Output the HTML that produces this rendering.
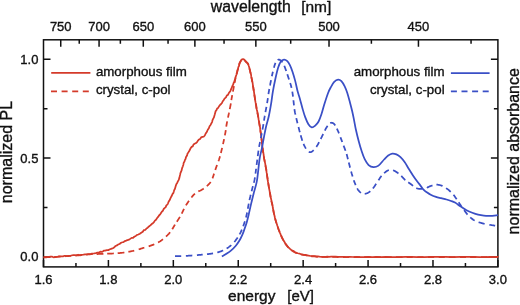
<!DOCTYPE html>
<html><head><meta charset="utf-8"><style>
html,body{margin:0;padding:0;background:#fff;}
svg{display:block;}
text{font-family:"Liberation Sans",Arial,sans-serif;fill:#111;stroke:#111;stroke-width:0.35px;}
</style></head><body>
<svg width="520" height="305" viewBox="0 0 520 305">
<rect x="0" y="0" width="520" height="305" fill="#fff"/>

<g fill="none" stroke="#111" stroke-width="1.5">
<rect x="43.5" y="39.8" width="454.4" height="227.1"/>
<path d="M43.50,266.9v-7.0 M75.96,266.9v-4.0 M108.41,266.9v-7.0 M140.87,266.9v-4.0 M173.33,266.9v-7.0 M205.78,266.9v-4.0 M238.24,266.9v-7.0 M270.70,266.9v-4.0 M303.16,266.9v-7.0 M335.61,266.9v-4.0 M368.07,266.9v-7.0 M400.53,266.9v-4.0 M432.98,266.9v-7.0 M465.44,266.9v-4.0 M497.90,266.9v-7.0 M471.05,39.8v4.0 M418.44,39.8v7.0 M371.38,39.8v4.0 M329.02,39.8v7.0 M290.69,39.8v4.0 M255.85,39.8v7.0 M224.04,39.8v4.0 M194.88,39.8v7.0 M168.05,39.8v4.0 M143.29,39.8v7.0 M120.36,39.8v4.0 M99.07,39.8v7.0 M79.24,39.8v4.0 M60.74,39.8v7.0 M43.5,256.90h7.0 M497.9,256.90h-7.0 M43.5,207.50h4.0 M497.9,207.50h-4.0 M43.5,158.10h7.0 M497.9,158.10h-7.0 M43.5,108.70h4.0 M497.9,108.70h-4.0 M43.5,59.30h7.0 M497.9,59.30h-7.0"/>
</g>
<g fill="none" stroke-linejoin="round" stroke-linecap="butt">
<path d="M43.50,257.30L45.06,256.99L46.70,257.04L48.28,257.19L50.47,256.55L51.88,256.68L53.49,257.26L54.94,257.04L56.23,256.78L58.04,256.68L59.55,256.46L60.96,256.46L63.02,256.37L64.66,255.78L66.80,256.10L68.91,255.80L70.82,255.65L72.66,255.24L74.62,255.19L76.14,255.48L78.06,254.71L79.97,255.32L81.65,254.86L83.37,254.59L85.12,254.27L86.92,254.28L88.62,254.14L90.41,254.05L91.91,253.59L94.18,253.44L95.84,253.16L97.37,252.68L98.98,252.51L100.28,251.70L102.25,251.84L103.77,250.73L105.01,250.61L106.92,250.09L108.27,250.12L109.97,249.28L111.80,248.58L113.38,248.02L114.69,246.91L115.58,245.94L116.86,245.43L118.32,244.34L119.50,243.98L121.12,242.73L122.45,242.26L123.48,242.09L124.84,241.06L126.17,240.64L127.47,240.02L129.15,239.66L130.54,238.64L131.65,237.85L133.08,237.84L134.21,236.75L135.80,235.91L137.09,234.85L138.36,234.50L139.83,233.67L141.20,232.73L142.80,231.71L143.74,230.18L145.43,229.82L146.49,228.45L147.71,227.74L148.95,226.49L150.32,225.43L151.45,224.27L152.49,223.54L153.98,222.14L154.90,220.62L156.03,219.74L157.21,217.85L158.09,216.97L159.19,215.25L160.20,214.34L161.02,213.04L162.15,211.35L162.94,210.71L163.66,209.00L164.55,208.13L165.70,207.16L166.32,205.36L167.34,204.64L168.03,203.31L168.79,201.31L169.53,200.44L170.32,198.55L171.00,197.17L171.51,196.29L172.59,193.90L173.30,193.13L173.85,191.40L174.09,190.40L174.95,188.75L175.38,187.20L175.87,185.48L176.41,184.07L177.19,183.02L177.72,181.67L178.58,180.12L179.33,178.10L179.65,176.58L180.21,174.22L180.49,172.80L181.05,171.73L181.69,170.08L182.03,168.34L182.85,166.20L183.37,164.67L183.65,162.91L184.48,161.52L185.02,159.73L185.57,159.05L185.93,157.30L187.03,155.58L187.50,153.59L188.36,152.39L189.09,151.22L189.63,150.31L190.62,148.22L191.50,146.90L192.75,146.40L193.50,144.53L194.59,143.82L196.08,143.05L197.04,142.20L197.93,140.54L199.07,139.42L200.08,138.93L201.08,137.42L202.46,136.94L203.65,136.73L204.80,135.52L205.44,133.98L206.41,132.61L207.16,131.23L207.78,129.78L208.84,128.26L209.56,126.22L210.57,124.93L211.12,123.77L212.08,122.07L212.51,120.19L213.23,118.69L213.81,117.66L214.25,116.18L214.74,114.53L215.29,112.46L215.64,111.05L216.34,110.32L217.12,108.53L218.10,107.93L219.32,105.85L220.23,104.73L221.12,104.05L221.92,103.04L222.59,101.50L223.73,100.02L224.52,98.59L225.95,97.38L226.78,95.59L228.05,94.82L228.68,93.23L229.71,91.91L230.42,90.89L231.09,89.17L231.78,87.64L232.49,85.75L233.13,84.82L233.51,83.26L234.29,81.76L234.69,80.23L235.24,78.51L235.50,77.38L236.21,75.24L236.63,74.23L237.19,72.16L237.44,70.33L238.04,68.73L238.33,67.13L239.09,65.72L239.44,63.71L240.06,62.42L240.65,61.11L241.50,59.61L243.04,59.18L244.25,59.67L245.42,60.89L246.41,61.92L247.48,63.05L248.35,64.38L248.78,65.92L249.26,67.41L249.61,69.04L250.12,70.62L250.30,71.90L250.72,73.27L251.10,74.99L251.28,76.68L251.61,78.09L252.02,79.79L252.35,81.56L252.62,82.84L252.78,84.25L253.00,86.19L253.39,87.41L253.57,89.26L253.93,91.37L254.18,93.28L254.55,95.68L254.90,97.82L255.20,100.30L255.47,102.17L255.89,103.92L256.25,105.66L256.41,107.74L256.78,109.46L257.17,111.05L257.46,112.45L257.77,114.12L258.03,115.41L258.37,117.68L258.56,119.23L258.88,120.77L259.20,122.37L259.36,123.88L259.72,125.66L260.06,127.31L260.19,129.38L260.47,131.43L260.87,133.19L261.11,135.34L261.27,136.77L261.39,138.10L261.67,139.51L261.81,141.30L261.94,142.81L262.12,144.13L262.23,145.84L262.45,147.10L262.74,149.21L263.01,150.94L263.34,152.89L263.64,154.70L263.84,156.56L264.17,158.64L264.56,160.34L264.73,161.55L265.13,163.12L265.42,164.78L265.59,166.20L265.88,167.64L266.21,169.21L266.39,170.61L266.57,172.39L266.96,173.96L267.07,175.59L267.32,177.02L267.62,178.64L267.71,180.27L268.00,181.94L268.31,183.48L268.60,184.92L268.83,186.88L269.12,188.53L269.43,190.08L269.72,191.68L270.00,193.52L270.39,195.03L270.51,196.61L270.88,197.97L271.25,199.68L271.60,201.70L272.18,203.75L272.57,205.63L272.81,207.77L273.27,209.82L273.65,211.83L273.97,213.74L274.53,215.76L274.93,217.78L275.48,219.74L275.97,221.49L276.41,222.82L276.90,224.19L277.35,225.75L277.83,226.97L278.27,228.27L278.75,229.81L279.37,230.94L279.79,232.52L280.37,233.72L280.87,235.13L281.45,236.17L282.33,238.31L283.27,239.95L284.22,241.56L285.22,243.27L286.25,244.63L287.40,246.07L288.45,247.27L289.75,248.55L290.93,249.66L292.23,250.44L293.52,251.07L294.77,251.99L296.10,252.67L297.73,253.26L299.36,253.55L301.06,254.23L302.48,254.56L304.04,254.91L305.43,254.89L307.29,255.49L308.62,255.59L310.55,256.00L311.79,256.13L313.53,256.05L315.52,256.22L317.61,256.28L319.54,256.69L321.80,256.79L324.43,256.77L325.70,256.85L327.39,256.62L329.03,256.90L331.10,256.66L333.11,256.60L335.49,256.71L337.93,256.97L340.80,256.92L343.67,256.97L346.70,257.03L349.89,256.84L353.32,257.00L356.78,256.81L360.54,257.01L364.32,257.02L368.24,256.94L372.33,257.04L376.73,256.95L380.99,257.04L385.67,256.87L390.34,257.04L395.06,257.14L400.05,257.16L405.29,256.94L411.17,256.84L417.45,257.19L424.17,257.04L431.26,256.85L438.30,256.91L445.65,256.87L452.73,257.05L460.01,256.90L466.79,256.90L473.39,256.97L479.52,257.05L485.03,257.02L490.02,256.87L494.33,257.13L497.99,256.81L497.90,257.00" stroke="#d43a2a" stroke-width="1.75"/>
<path d="M43.50,257.40L44.29,257.36L45.25,257.32L45.82,257.30L46.38,257.27L47.02,257.24L47.65,257.21L48.34,257.18L49.03,257.15L49.76,257.12M54.17,256.91L54.70,256.89L55.24,256.86L55.78,256.83L56.32,256.81L56.86,256.78L57.39,256.75L57.92,256.72L58.45,256.69L58.97,256.66L59.48,256.63L60.00,256.60L60.53,256.57M64.99,256.28L65.58,256.24L66.18,256.20L66.78,256.16L67.38,256.12L67.99,256.08L68.59,256.03L69.20,255.99L69.80,255.95L70.41,255.91L71.00,255.86M75.62,255.53L76.15,255.49L76.68,255.45L77.20,255.41L77.94,255.36L78.67,255.30L79.34,255.25L80.00,255.20L80.59,255.15L81.18,255.11L81.70,255.06M86.23,254.61L86.93,254.54L87.63,254.48L88.36,254.42L89.15,254.36L90.00,254.30L90.91,254.25L91.83,254.20L92.77,254.16M96.64,254.04L97.62,254.01L98.60,253.99L99.57,253.96L100.54,253.93L101.50,253.90L102.45,253.87L103.40,253.84M107.20,253.74L108.15,253.71L109.10,253.68L110.05,253.64L111.00,253.60L111.95,253.55L112.90,253.50L113.85,253.44M117.68,253.19L118.64,253.12L119.60,253.04L120.56,252.95L121.52,252.86L122.48,252.75L123.44,252.63L124.40,252.50M128.40,251.83L128.91,251.73L129.41,251.63L129.92,251.53L130.43,251.42L130.92,251.32L131.42,251.22L131.91,251.11L132.39,251.01L133.33,250.80L134.24,250.59M138.67,249.43L139.27,249.24L139.85,249.05L140.41,248.86L140.94,248.68L141.47,248.50L141.98,248.33L142.49,248.16L143.00,248.00L143.49,247.86L143.93,247.73L144.34,247.61M148.68,246.30L149.30,246.09L149.97,245.86L150.66,245.63L151.37,245.38L152.10,245.12L152.83,244.85L153.56,244.57L154.28,244.29M158.07,242.49L158.63,242.18L159.18,241.86L159.72,241.54L160.26,241.20L160.79,240.84L161.33,240.47L161.88,240.07L162.43,239.65L163.00,239.20M166.04,236.56L166.66,235.97L167.28,235.37L167.88,234.76L168.47,234.14L169.04,233.53L169.58,232.91L170.10,232.30M172.26,229.21L172.64,228.57L173.02,227.93L173.40,227.29L173.78,226.63L174.17,225.96L174.57,225.29L175.00,224.60M176.84,221.75L177.32,221.01L177.56,220.64L177.80,220.27L178.04,219.89L178.28,219.52L178.52,219.14L178.76,218.76L179.00,218.38L179.23,218.00L179.47,217.62L179.70,217.24L179.93,216.85M181.65,213.73L181.85,213.33L182.05,212.92L182.25,212.51L182.44,212.11L182.64,211.70L182.84,211.29L183.03,210.88L183.23,210.47L183.42,210.06L183.62,209.66L183.82,209.25L184.02,208.85M185.96,205.34L186.20,204.95L186.43,204.57L186.68,204.18L186.92,203.80L187.17,203.42L187.42,203.03L187.68,202.65L187.93,202.27L188.18,201.90L188.44,201.53L188.69,201.16L188.95,200.79M191.40,197.50L191.86,196.94L192.31,196.40L192.75,195.88L193.19,195.39L193.63,194.93L194.06,194.48L194.48,194.06L194.90,193.66M198.32,191.31L198.67,191.19L199.01,191.07L199.35,190.96L199.69,190.85L200.02,190.72L200.36,190.57L200.70,190.40L201.04,190.21L201.38,190.02L201.72,189.82L202.05,189.61L202.39,189.41L202.72,189.19L203.05,188.98L203.38,188.75L203.71,188.52M206.71,186.18L207.04,185.89L207.37,185.60L207.69,185.30L208.00,185.00L208.31,184.70L208.60,184.40L208.88,184.10L209.16,183.81L209.43,183.53L209.69,183.25L209.94,182.96L210.19,182.67L210.43,182.36L210.67,182.04M212.48,178.41L212.69,177.82L212.90,177.22L213.10,176.61L213.31,175.99L213.51,175.37L213.71,174.77L213.90,174.17L214.10,173.60M215.32,169.93L215.50,169.39L215.68,168.83L215.87,168.25L216.08,167.64L216.30,167.00L216.54,166.33L216.79,165.65L217.05,164.95M218.46,161.18L218.60,160.77L218.75,160.36L218.89,159.93L219.04,159.50L219.18,159.06L219.32,158.62L219.46,158.16L219.60,157.70L219.74,157.22L219.88,156.74L220.02,156.23M220.88,152.99L221.02,152.43L221.16,151.86L221.31,151.29L221.45,150.71L221.59,150.14L221.73,149.56L221.87,148.99L222.00,148.42L222.14,147.85M223.02,144.09L223.14,143.58L223.25,143.07L223.36,142.56L223.48,142.05L223.59,141.54L223.70,141.04L223.81,140.54L223.91,140.04L224.02,139.55L224.12,139.06M224.89,135.28L224.97,134.83L225.06,134.39L225.14,133.95L225.22,133.53L225.30,133.10L225.44,132.29L225.57,131.51L225.69,130.77L225.79,130.06M226.25,126.67L226.36,125.97L226.47,125.25L226.60,124.50L226.74,123.73L226.89,122.94L227.05,122.14L227.21,121.33M228.00,117.60L228.08,117.19L228.17,116.77L228.26,116.35L228.34,115.94L228.43,115.52L228.60,114.70L228.68,114.29L228.77,113.87L228.86,113.45L228.94,113.03L229.03,112.60M229.74,109.17L229.82,108.75L229.91,108.33L229.99,107.91L230.16,107.09L230.31,106.30L230.46,105.53L230.60,104.80L230.73,104.11L230.84,103.47M231.37,100.07L231.46,99.49L231.56,98.87L231.67,98.21L231.80,97.50L231.94,96.74L232.08,95.94L232.24,95.11M232.91,91.57L233.00,91.11L233.09,90.66L233.18,90.20L233.27,89.74L233.36,89.28L233.45,88.82L233.53,88.36L233.62,87.90L233.71,87.45L233.80,87.00L233.89,86.54L233.98,86.09M234.62,82.74L234.71,82.25L234.81,81.77L234.90,81.28L234.99,80.80L235.09,80.33L235.18,79.86L235.27,79.39L235.37,78.93L235.46,78.48L235.55,78.04L235.64,77.61M236.52,73.96L236.69,73.35L236.85,72.77L237.02,72.22L237.18,71.68L237.35,71.15L237.51,70.62L237.67,70.09L237.84,69.55L238.00,69.00L238.16,68.43M239.04,64.94L239.19,64.40L239.35,63.87L239.52,63.38L239.70,62.92L239.90,62.50L240.11,62.10L240.34,61.72L240.57,61.35L240.81,61.00L241.07,60.68L241.32,60.38M244.78,60.67L245.04,60.97L245.30,61.26L245.55,61.54L245.78,61.79L246.00,62.00L246.21,62.18L246.41,62.34L246.59,62.50L246.77,62.64L246.95,62.77L247.11,62.91L247.27,63.06L247.43,63.21L247.57,63.37L247.72,63.56L247.86,63.77L248.00,64.00L248.13,64.26L248.26,64.53L248.37,64.82M249.41,68.40L249.52,68.82L249.63,69.25L249.73,69.69L249.84,70.13L249.95,70.59L250.06,71.06L250.17,71.54L250.28,72.02L250.38,72.51L250.49,73.00L250.60,73.50M251.36,77.17L251.47,77.72L251.57,78.28L251.68,78.85L251.79,79.42L251.90,80.00L252.00,80.56L252.10,81.09L252.20,81.61L252.29,82.11M252.91,85.75L253.05,86.57L253.12,87.04L253.20,87.50L253.28,88.02L253.37,88.55L253.46,89.13L253.55,89.71L253.61,90.13L253.68,90.55L253.74,90.97M254.31,94.68L254.38,95.16L254.46,95.64L254.53,96.13L254.60,96.62L254.68,97.10L254.75,97.59L254.83,98.07L254.90,98.55L254.98,99.03L255.05,99.51L255.13,99.98M255.70,103.50L255.80,104.10L255.91,104.70L256.01,105.29L256.12,105.89L256.22,106.47L256.33,107.05L256.43,107.63L256.54,108.20L256.65,108.77M257.37,112.57L257.47,113.09L257.57,113.60L257.66,114.10L257.75,114.60L257.84,115.08L257.93,115.57L258.02,116.03L258.10,116.50L258.18,116.94L258.26,117.39M258.91,121.19L259.02,121.88L259.13,122.57L259.25,123.27L259.36,123.99L259.48,124.73L259.60,125.50L259.73,126.29M260.36,130.32L260.48,131.16L260.54,131.58L260.61,132.00L260.67,132.42L260.73,132.85L260.79,133.28L260.86,133.72L260.92,134.16L260.98,134.60L261.04,135.05M261.51,138.85L261.57,139.35L261.63,139.86L261.69,140.36L261.74,140.87L261.80,141.38L261.86,141.88L261.91,142.39L261.97,142.90L262.03,143.40L262.09,143.90M262.56,147.76L262.62,148.21L262.68,148.65L262.74,149.10L262.79,149.53L262.85,149.97L262.91,150.39L262.97,150.82L263.02,151.24L263.08,151.66L263.14,152.08L263.20,152.50L263.26,152.92M263.78,156.35L263.85,156.79L263.93,157.24L264.00,157.70L264.08,158.17L264.16,158.63L264.25,159.10L264.33,159.58L264.42,160.06L264.51,160.54L264.60,161.02L264.70,161.50M265.47,165.46L265.57,165.97L265.66,166.47L265.76,166.97L265.85,167.48L265.94,167.98L266.03,168.49L266.11,168.99L266.20,169.50L266.28,170.01L266.36,170.51M266.88,174.10L266.95,174.62L267.02,175.14L267.09,175.66L267.16,176.18L267.23,176.70L267.31,177.22L267.38,177.75L267.45,178.28L267.52,178.80L267.60,179.33M268.17,183.09L268.27,183.64L268.36,184.20L268.45,184.77L268.54,185.33L268.64,185.90L268.73,186.47L268.83,187.04L268.93,187.62L269.03,188.19M269.72,192.14L269.82,192.68L269.92,193.22L270.01,193.75L270.11,194.28L270.21,194.79L270.30,195.30L270.39,195.79L270.49,196.28L270.58,196.76L270.67,197.23M271.41,200.82L271.50,201.25L271.60,201.68L271.69,202.11L271.78,202.54L271.87,202.97L271.96,203.39L272.05,203.82L272.14,204.25L272.23,204.69L272.32,205.12L272.41,205.56M273.17,209.54L273.25,209.98L273.33,210.42L273.41,210.86L273.49,211.30L273.57,211.74L273.65,212.18L273.74,212.62L273.82,213.06L273.91,213.50L274.00,213.95L274.09,214.39M275.06,218.38L275.18,218.82L275.30,219.27L275.42,219.72L275.54,220.16L275.67,220.61L275.80,221.06L275.93,221.50L276.06,221.95L276.20,222.40L276.33,222.84L276.47,223.29M277.65,226.86L277.80,227.30L277.96,227.75L278.12,228.19L278.28,228.64L278.44,229.10L278.61,229.55L278.77,230.00L278.94,230.46L279.11,230.91L279.29,231.37L279.46,231.83M280.93,235.39L281.12,235.82L281.31,236.25L281.51,236.67L281.70,237.09L281.90,237.49L282.10,237.90L282.30,238.30L282.50,238.70L282.71,239.09L282.91,239.49L283.12,239.88L283.33,240.27M285.06,243.25L285.51,243.95L285.97,244.63L286.44,245.28L286.92,245.91L287.40,246.50L287.90,247.07L288.42,247.61M291.71,250.39L292.25,250.78L292.78,251.14L293.30,251.48L293.80,251.80L294.28,252.09L294.74,252.35L295.19,252.57L295.63,252.77L296.06,252.95L296.48,253.11L296.90,253.25M300.89,254.36L301.33,254.45L301.78,254.54L302.25,254.63L302.74,254.72L303.25,254.81L303.80,254.90L304.38,255.00L305.00,255.10L305.63,255.21L306.23,255.33L306.82,255.46L307.41,255.59M311.14,256.21L311.65,256.26L312.16,256.32L312.73,256.37L313.31,256.41L313.95,256.46L314.60,256.50L315.12,256.54L315.63,256.57L316.12,256.64L316.28,256.70L316.32,256.74L316.46,256.79L316.91,256.82L317.87,256.86M321.70,256.91L322.23,256.92L322.77,256.92L323.32,256.92L323.86,256.93L324.41,256.93L324.95,256.94L325.50,256.94L326.04,256.94L326.56,256.95L327.08,256.95L327.60,256.95L328.12,256.96M332.27,256.98L332.79,256.98L333.31,256.98L333.83,256.98L334.35,256.98L334.87,256.99L335.39,256.99L335.92,256.99L336.44,256.99L336.96,257.00L337.48,257.00L338.00,257.00L338.50,257.00M343.03,257.02L343.53,257.02L344.04,257.02L344.54,257.02L345.04,257.02L345.55,257.02L346.05,257.02L346.55,257.03L347.05,257.03L347.56,257.03L348.06,257.03L348.56,257.03L349.06,257.03M353.58,257.04L354.08,257.04L354.59,257.04L355.09,257.05L355.59,257.05L356.09,257.05L356.59,257.05L357.10,257.05L357.60,257.05L358.10,257.05L358.60,257.05L359.10,257.05L359.60,257.05L360.10,257.06M364.11,257.06L364.61,257.06L365.11,257.06L365.61,257.06L366.11,257.07L366.62,257.07L367.12,257.07L367.62,257.07L368.12,257.07L368.62,257.07L369.12,257.07L369.62,257.07L370.12,257.07L370.62,257.07M374.71,257.08L375.23,257.08L375.74,257.08L376.26,257.08L376.78,257.08L377.29,257.08L377.81,257.08L378.33,257.08L378.84,257.08L379.36,257.09L379.88,257.09L380.39,257.09L380.91,257.09M385.56,257.09L386.08,257.09L386.59,257.10L387.11,257.10L387.63,257.10L388.14,257.10L388.65,257.10L389.17,257.10L389.68,257.10L390.20,257.10L390.71,257.10L391.22,257.10L391.74,257.10M395.85,257.11L396.36,257.11L396.88,257.11L397.39,257.11L397.91,257.11L398.42,257.11L398.93,257.11L399.45,257.11L399.96,257.11L400.48,257.11L400.99,257.11L401.50,257.11L402.02,257.11L402.53,257.11M406.63,257.12L407.14,257.12L407.65,257.12L408.16,257.12L408.67,257.12L409.18,257.12L409.69,257.12L410.21,257.12L410.72,257.12L411.23,257.12L411.74,257.12L412.25,257.12L412.76,257.12M417.37,257.13L417.88,257.13L418.39,257.13L418.90,257.13L419.41,257.13L419.92,257.13L420.43,257.13L420.94,257.13L421.45,257.13L421.96,257.13L422.47,257.13L422.98,257.13L423.48,257.13M428.06,257.14L428.57,257.14L429.08,257.14L429.59,257.14L430.10,257.14L430.61,257.14L431.12,257.14L431.63,257.14L432.14,257.14L432.64,257.14L433.15,257.14L433.66,257.14L434.17,257.14M438.74,257.15L439.24,257.15L439.75,257.15L440.25,257.15L440.76,257.15L441.27,257.15L441.77,257.15L442.28,257.15L442.78,257.15L443.29,257.15L443.80,257.15L444.30,257.15L444.81,257.15M448.86,257.16L449.36,257.16L449.87,257.16L450.38,257.16L450.88,257.16L451.39,257.16L451.89,257.16L452.39,257.16L452.90,257.16L453.40,257.16L453.90,257.16L454.41,257.16L454.91,257.16L455.41,257.16M459.94,257.17L460.44,257.17L460.94,257.17L461.44,257.17L461.95,257.17L462.45,257.17L462.95,257.17L463.45,257.17L463.96,257.17L464.46,257.17L464.96,257.17L465.47,257.17L465.97,257.17M470.11,257.17L470.63,257.17L471.15,257.18L471.67,257.18L472.19,257.18L472.71,257.18L473.22,257.18L473.74,257.18L474.26,257.18L474.78,257.18L475.30,257.18L475.81,257.18L476.33,257.18M480.98,257.18L481.50,257.18L482.01,257.18L482.53,257.18L483.04,257.19L483.56,257.19L484.07,257.19L484.59,257.19L485.10,257.19L485.62,257.19L486.13,257.19L486.65,257.19L487.16,257.19M491.27,257.19L491.78,257.19L492.29,257.19L492.80,257.19L493.31,257.20L493.82,257.20L494.33,257.20L494.84,257.20L495.35,257.20L495.86,257.20L496.37,257.20L496.88,257.20L497.39,257.20L497.90,257.20" stroke="#d43a2a" stroke-width="1.75"/>
<path d="M221.90,256.50 C222.72,256.02 225.25,254.62 226.80,253.60 C228.35,252.58 229.73,251.67 231.20,250.40 C232.67,249.13 234.25,247.60 235.60,246.00 C236.95,244.40 238.18,242.65 239.30,240.80 C240.42,238.95 241.43,236.87 242.30,234.90 C243.17,232.93 243.77,231.08 244.50,229.00 C245.23,226.92 246.02,224.73 246.70,222.40 C247.38,220.07 247.87,218.08 248.60,215.00 C249.33,211.92 250.20,207.72 251.10,203.90 C252.00,200.08 253.02,196.03 254.00,192.10 C254.98,188.17 256.07,185.83 257.00,180.30 C257.93,174.77 258.80,164.18 259.60,158.90 C260.40,153.62 261.07,152.28 261.80,148.60 C262.53,144.92 263.27,140.57 264.00,136.80 C264.73,133.03 265.40,129.43 266.20,126.00 C267.00,122.57 267.97,120.02 268.80,116.20 C269.63,112.38 270.52,107.25 271.20,103.10 C271.88,98.95 272.18,95.45 272.90,91.30 C273.62,87.15 274.63,82.13 275.50,78.20 C276.37,74.27 277.23,70.43 278.10,67.70 C278.97,64.97 279.72,63.15 280.70,61.80 C281.68,60.45 282.90,59.70 284.00,59.60 C285.10,59.50 286.32,60.28 287.30,61.20 C288.28,62.12 289.03,63.35 289.90,65.10 C290.77,66.85 291.62,69.07 292.50,71.70 C293.38,74.33 294.35,77.63 295.20,80.90 C296.05,84.17 296.83,88.37 297.60,91.30 C298.37,94.23 298.98,95.63 299.80,98.50 C300.62,101.37 301.62,105.43 302.50,108.50 C303.38,111.57 304.12,114.28 305.10,116.90 C306.08,119.52 307.28,122.45 308.40,124.20 C309.52,125.95 310.70,127.13 311.80,127.40 C312.90,127.67 313.87,126.78 315.00,125.80 C316.13,124.82 317.52,123.47 318.60,121.50 C319.68,119.53 320.58,116.75 321.50,114.00 C322.42,111.25 323.02,108.47 324.10,105.00 C325.18,101.53 326.87,96.18 328.00,93.20 C329.13,90.22 329.87,89.00 330.90,87.10 C331.93,85.20 333.00,83.05 334.20,81.80 C335.40,80.55 336.90,79.70 338.10,79.60 C339.30,79.50 340.30,80.07 341.40,81.20 C342.50,82.33 343.72,84.43 344.70,86.40 C345.68,88.37 346.43,90.37 347.30,93.00 C348.17,95.63 349.08,99.15 349.90,102.20 C350.72,105.25 351.52,108.37 352.20,111.30 C352.88,114.23 353.40,116.82 354.00,119.80 C354.60,122.78 355.00,125.58 355.80,129.20 C356.60,132.82 357.82,137.82 358.80,141.50 C359.78,145.18 360.72,148.35 361.70,151.30 C362.68,154.25 363.55,156.90 364.70,159.20 C365.85,161.50 367.13,163.77 368.60,165.10 C370.07,166.43 371.85,167.12 373.50,167.20 C375.15,167.28 376.73,166.88 378.50,165.60 C380.27,164.32 382.48,161.18 384.10,159.50 C385.72,157.82 386.83,156.48 388.20,155.50 C389.57,154.52 390.93,153.78 392.30,153.60 C393.67,153.42 395.03,153.80 396.40,154.40 C397.77,155.00 399.13,155.92 400.50,157.20 C401.87,158.48 403.23,160.18 404.60,162.10 C405.97,164.02 407.33,166.52 408.70,168.70 C410.07,170.88 411.43,173.15 412.80,175.20 C414.17,177.25 415.62,179.27 416.90,181.00 C418.18,182.73 419.40,184.17 420.50,185.60 C421.60,187.03 422.45,188.48 423.50,189.60 C424.55,190.72 425.60,191.45 426.80,192.30 C428.00,193.15 429.17,193.93 430.70,194.70 C432.23,195.47 434.25,196.32 436.00,196.90 C437.75,197.48 439.45,197.77 441.20,198.20 C442.95,198.63 444.97,199.07 446.50,199.50 C448.03,199.93 448.98,200.28 450.40,200.80 C451.82,201.32 453.27,201.63 455.00,202.60 C456.73,203.57 458.88,205.33 460.80,206.60 C462.72,207.87 464.58,209.17 466.50,210.20 C468.42,211.23 470.37,212.05 472.30,212.80 C474.23,213.55 476.17,214.22 478.10,214.70 C480.03,215.18 481.98,215.50 483.90,215.70 C485.82,215.90 487.27,215.98 489.60,215.90 C491.93,215.82 496.52,215.32 497.90,215.20" stroke="#3a4fc6" stroke-width="1.75"/>
<path d="M175.00,256.20L175.48,256.19L176.08,256.17L176.77,256.16L177.56,256.14L178.41,256.12L179.31,256.09L180.26,256.07L181.22,256.04M185.88,255.86L186.78,255.81L187.68,255.76L188.59,255.71L189.51,255.65L190.44,255.59L191.37,255.53L192.30,255.47M196.93,255.13L197.88,255.05L198.84,254.97L199.81,254.89L200.79,254.80L201.75,254.72L202.70,254.63M207.00,254.20L207.73,254.12L208.43,254.03L209.10,253.95L209.74,253.86L210.35,253.78L210.94,253.69L211.50,253.61L212.04,253.53L212.55,253.44L213.05,253.36M217.30,252.51L217.64,252.41L218.00,252.30L218.39,252.18L218.79,252.05L219.20,251.92L219.61,251.78L220.04,251.63L220.47,251.48L220.91,251.32L221.35,251.15L221.79,250.98L222.23,250.79L222.67,250.60L223.10,250.40M226.62,248.49L227.05,248.22L227.48,247.95L227.89,247.67L228.30,247.40L228.70,247.12L229.09,246.85L229.47,246.56L229.85,246.28L230.23,245.99L230.59,245.69L230.96,245.39L231.31,245.09M234.29,242.06L234.59,241.69L234.89,241.32L235.19,240.94L235.49,240.54L235.79,240.14L236.09,239.73L236.40,239.30L236.71,238.86L237.03,238.41L237.34,237.94L237.66,237.46M239.53,234.44L239.82,233.92L240.10,233.40L240.37,232.87L240.64,232.34L240.90,231.80L241.15,231.25L241.40,230.70L241.64,230.14L241.88,229.59M243.21,226.25L243.42,225.69L243.62,225.13L243.81,224.57L244.00,224.00L244.19,223.44L244.37,222.89L244.54,222.33L244.72,221.79L244.88,221.25M246.01,217.49L246.12,217.06L246.24,216.56L246.38,215.98L246.53,215.30L246.70,214.50L246.80,214.03L246.89,213.57L247.00,213.03L247.10,212.50M247.81,208.75L247.89,208.29L247.98,207.84L248.06,207.38L248.15,206.92L248.23,206.46L248.32,205.99L248.41,205.53L248.49,205.07L248.58,204.61L248.67,204.15L248.76,203.70M249.48,200.08L249.60,199.50L249.72,198.95L249.84,198.40L249.97,197.85L250.09,197.31L250.22,196.79L250.34,196.26L250.47,195.74L250.59,195.22L250.72,194.72M251.59,191.30L251.70,190.84L251.82,190.37L251.94,189.92L252.06,189.46L252.17,189.02L252.28,188.57L252.39,188.14L252.50,187.70L252.60,187.29L252.71,186.87L252.91,186.11M253.84,182.71L254.01,182.02L254.19,181.30L254.36,180.53L254.44,180.12L254.53,179.70L254.61,179.25L254.70,178.80L254.78,178.31L254.87,177.83L254.95,177.32M255.50,173.53L255.57,172.95L255.65,172.37L255.73,171.78L255.80,171.18L255.88,170.58L255.96,169.97L256.03,169.36L256.11,168.75M256.60,165.00L256.66,164.57L256.72,164.14L256.77,163.71L256.83,163.26L256.89,162.81L256.95,162.36L257.01,161.90L257.07,161.44L257.13,160.97L257.19,160.50L257.25,160.03L257.31,159.56M257.74,156.20L257.80,155.72L257.86,155.24L257.92,154.77L257.99,154.29L258.05,153.82L258.11,153.36L258.17,152.90L258.24,152.44L258.30,151.99L258.36,151.54L258.42,151.10L258.49,150.67M259.08,146.91L259.18,146.37L259.27,145.85L259.37,145.33L259.47,144.83L259.56,144.33L259.66,143.84L259.76,143.36L259.85,142.88L259.95,142.41L260.05,141.95M260.82,138.24L260.91,137.77L261.01,137.28L261.10,136.80L261.19,136.30L261.29,135.81L261.39,135.30L261.48,134.80L261.58,134.29L261.68,133.78L261.77,133.27M262.45,129.70L262.54,129.21L262.63,128.71L262.72,128.23L262.81,127.74L262.89,127.27L262.98,126.79L263.06,126.34L263.14,125.88L263.22,125.44L263.30,125.00L263.44,124.18M263.99,120.68L264.09,120.02L264.19,119.34L264.30,118.63L264.42,117.88L264.55,117.07L264.63,116.64L264.70,116.20L264.78,115.73M265.45,112.10L265.55,111.54L265.66,110.98L265.77,110.41L265.88,109.84L265.98,109.26L266.09,108.68L266.20,108.11L266.31,107.53L266.41,106.96M267.10,103.10L267.19,102.58L267.27,102.07L267.35,101.55L267.43,101.04L267.51,100.53L267.59,100.03L267.66,99.52L267.74,99.02L267.81,98.52L267.88,98.02M268.45,94.12L268.52,93.65L268.60,93.17L268.67,92.70L268.74,92.23L268.82,91.77L268.90,91.30L268.98,90.84L269.06,90.38L269.14,89.93L269.22,89.47L269.30,89.02M269.97,85.51L270.06,85.08L270.14,84.65L270.23,84.23L270.31,83.80L270.40,83.38L270.48,82.97L270.56,82.55L270.73,81.72L270.90,80.90L271.06,80.09M271.86,76.21L272.02,75.45L272.19,74.70L272.36,73.95L272.53,73.20L272.71,72.45L272.90,71.70M273.94,67.68L274.16,66.87L274.39,66.08L274.61,65.33L274.84,64.61L275.06,63.94L275.28,63.34L275.50,62.80M277.67,59.92L277.88,59.80L278.10,59.70L278.32,59.62L278.53,59.58L278.75,59.57L278.96,59.59L279.18,59.63L279.39,59.70L279.61,59.79L279.83,59.90L280.04,60.03L280.26,60.18L280.48,60.33L280.70,60.50L280.92,60.68L281.15,60.87L281.37,61.07L281.60,61.29L281.82,61.53L282.05,61.79L282.28,62.06L282.50,62.36M284.27,65.71L284.49,66.26L284.71,66.82L284.92,67.40L285.14,67.99L285.35,68.59L285.57,69.19L285.78,69.80L286.00,70.40L286.22,71.01M287.30,74.19L287.52,74.85L287.73,75.52L287.95,76.19L288.17,76.86L288.38,77.53L288.60,78.20L288.82,78.87L289.04,79.55M290.19,83.00L290.41,83.70L290.62,84.40L290.82,85.10L291.02,85.80L291.20,86.50L291.37,87.18L291.52,87.83M292.29,91.66L292.41,92.39L292.53,93.19L292.60,93.62L292.66,94.05L292.73,94.53L292.80,95.00L292.87,95.53L292.94,96.06L293.01,96.64M293.43,100.28L293.48,100.74L293.53,101.20L293.58,101.67L293.63,102.14L293.68,102.61L293.73,103.08L293.78,103.54L293.83,104.01L293.88,104.48L293.93,104.94L293.98,105.40M294.44,109.22L294.52,109.76L294.60,110.30L294.68,110.79L294.76,111.29L294.84,111.75L294.92,112.21L295.01,112.64L295.09,113.07L295.26,113.88L295.42,114.65M296.27,118.14L296.44,118.81L296.60,119.50L296.76,120.18L296.92,120.83L297.07,121.46L297.22,122.07L297.37,122.67L297.52,123.26M298.50,127.00L298.68,127.70L298.87,128.43L299.06,129.17L299.26,129.93L299.45,130.70L299.66,131.47L299.86,132.25M300.69,135.28L300.90,136.00L301.11,136.70L301.31,137.40L301.52,138.10L301.73,138.79L301.93,139.47L302.14,140.14L302.36,140.81M303.50,143.90L303.75,144.47L304.01,145.04L304.28,145.60L304.55,146.14L304.83,146.68L305.11,147.19L305.39,147.69L305.67,148.17L305.96,148.62M308.73,151.67L309.00,151.84L309.28,151.98L309.55,152.08L309.83,152.16L310.10,152.20L310.38,152.20L310.65,152.17L310.93,152.09L311.20,151.99L311.48,151.85L311.76,151.69L312.03,151.51L312.31,151.31L312.58,151.10L312.86,150.87L313.13,150.64L313.40,150.40L313.67,150.15M316.33,146.90L316.60,146.50L316.87,146.08L317.14,145.64L317.42,145.18L317.69,144.71L317.97,144.22L318.24,143.72L318.52,143.21L318.80,142.69L319.07,142.17M320.72,139.00L321.00,138.45L321.27,137.89L321.55,137.34L321.83,136.78L322.10,136.22L322.38,135.66L322.65,135.10L322.92,134.55L323.20,134.00M324.85,130.59L325.12,130.03L325.40,129.48L325.67,128.95L325.95,128.44L326.23,127.95L326.50,127.50L326.78,127.07L327.06,126.65L327.34,126.24L327.63,125.86M330.27,123.17L330.49,123.04L330.71,122.93L330.92,122.85L331.13,122.79L331.34,122.76L331.54,122.74L331.75,122.75L331.96,122.78L332.18,122.83L332.40,122.90L332.62,122.99L332.85,123.09L333.07,123.21L333.30,123.34L333.53,123.50L333.76,123.69L333.99,123.90L334.22,124.13L334.46,124.40L334.70,124.70L334.95,125.03L335.20,125.40M336.86,128.53L337.15,129.15L337.43,129.77L337.71,130.40L337.98,131.02L338.25,131.62L338.50,132.20L338.74,132.77L338.97,133.33M340.46,137.27L340.67,137.84L340.88,138.42L341.10,139.00L341.32,139.59L341.55,140.18L341.77,140.77L342.00,141.37L342.22,141.97M343.58,145.60L343.80,146.20L344.02,146.79L344.24,147.37L344.46,147.94L344.68,148.51L344.90,149.08L345.11,149.65L345.33,150.23L345.54,150.82M346.61,154.11L346.82,154.84L347.02,155.59L347.22,156.36L347.42,157.15L347.62,157.95L347.83,158.77L347.93,159.18M348.79,162.57L348.90,163.00L349.02,163.44L349.13,163.88L349.25,164.34L349.37,164.80L349.49,165.27L349.62,165.74L349.74,166.22L349.87,166.70L349.99,167.19L350.12,167.67M351.15,171.53L351.27,171.99L351.40,172.45L351.53,172.90L351.65,173.35L351.78,173.77L351.90,174.20L352.02,174.61L352.14,175.02L352.38,175.82L352.61,176.60M353.78,180.26L354.02,180.95L354.27,181.64L354.53,182.32L354.80,183.00L355.08,183.68L355.36,184.36L355.65,185.05M357.19,188.30L357.51,188.88L357.83,189.43L358.16,189.93L358.50,190.40L358.84,190.83L359.19,191.22L359.55,191.58L359.91,191.91L360.28,192.22L360.66,192.49L361.03,192.74M364.73,193.80L365.09,193.76L365.46,193.70L365.83,193.62L366.19,193.52L366.56,193.39L366.93,193.25L367.30,193.10L367.67,192.93L368.05,192.73L368.42,192.51L368.80,192.27L369.17,192.02L369.55,191.74L369.93,191.44L370.30,191.13M372.91,188.42L373.27,187.95L373.64,187.46L374.01,186.96L374.37,186.44L374.74,185.92L375.10,185.39L375.47,184.86L375.83,184.33L376.20,183.80M378.46,180.32L378.83,179.73L379.20,179.16L379.56,178.60L379.92,178.06L380.26,177.56L380.60,177.10L380.92,176.67L381.23,176.28L381.52,175.90M384.10,173.20L384.42,172.92L384.76,172.63L385.10,172.35L385.45,172.07L385.81,171.80L386.16,171.54L386.52,171.29L386.87,171.05L387.22,170.83L387.56,170.63L387.88,170.45L388.20,170.30L388.50,170.17L388.79,170.05M393.11,170.25L393.45,170.39L393.79,170.54L394.14,170.70L394.50,170.88L394.86,171.08L395.23,171.28L395.60,171.50L395.98,171.73L396.37,171.99L396.77,172.25L397.17,172.54L397.58,172.83L398.00,173.14L398.42,173.46M401.31,175.97L401.71,176.38L402.10,176.80L402.50,177.24L402.90,177.67L403.30,178.11L403.71,178.55L404.12,178.98L404.54,179.40L404.96,179.81L405.40,180.20M408.28,182.34L408.78,182.68L409.27,183.01L409.75,183.34L410.22,183.66L410.67,183.98L411.10,184.30L411.51,184.62L411.91,184.95L412.28,185.27L412.65,185.60L413.01,185.92M416.26,188.14L416.64,188.29L417.02,188.41L417.41,188.52L417.79,188.61L418.18,188.69L418.58,188.76L418.98,188.81L419.38,188.85L419.79,188.88L420.20,188.90L420.62,188.91L421.05,188.90L421.49,188.89L421.93,188.86L422.37,188.81M426.80,187.73L427.24,187.54L427.67,187.34L428.10,187.14L428.53,186.93L428.96,186.72L429.40,186.52L429.83,186.33L430.26,186.16L430.70,186.00L431.14,185.85L431.58,185.71L432.02,185.56L432.46,185.42M436.44,184.69L436.87,184.69L437.30,184.70L437.74,184.73L438.17,184.78L438.60,184.84L439.03,184.91L439.46,185.00L439.90,185.10L440.33,185.22L440.76,185.35L441.20,185.50L441.64,185.67L442.09,185.86L442.55,186.07M446.11,188.14L446.50,188.40L446.87,188.65L447.23,188.90L447.57,189.16L447.90,189.41L448.22,189.66L448.54,189.92L448.85,190.18L449.15,190.45L449.46,190.72L449.77,191.01L450.08,191.30L450.40,191.60L450.72,191.90M453.50,194.77L453.88,195.25L454.30,195.80L454.76,196.43L455.26,197.14L455.53,197.53L455.79,197.93L456.07,198.34L456.36,198.76L456.65,199.20M458.70,202.34L458.98,202.77L459.27,203.21L459.54,203.62L459.81,204.03L460.07,204.42L460.33,204.80L460.80,205.50L461.24,206.13L461.64,206.72M464.08,210.15L464.41,210.59L464.75,211.04L465.10,211.50L465.45,211.96L465.80,212.41L466.14,212.86L466.48,213.30L466.82,213.73L467.16,214.16L467.50,214.58M470.28,217.39L470.74,217.79L471.22,218.18L471.71,218.56L472.21,218.94L472.71,219.31L473.21,219.67L473.71,220.01L474.22,220.33L474.71,220.62M478.59,222.23L479.07,222.36L479.56,222.50L480.04,222.63L480.52,222.76L481.00,222.90L481.47,223.04L481.93,223.17L482.38,223.29L482.82,223.41L483.27,223.53L483.71,223.64L484.17,223.75L484.63,223.86M489.37,224.77L490.11,224.89L490.86,225.01L491.59,225.13L492.30,225.24L492.98,225.34L493.62,225.44L494.19,225.52L494.70,225.60L495.14,225.67" stroke="#3a4fc6" stroke-width="1.75"/>
</g>
<g font-size="13">
<text x="43.50" y="283.5" text-anchor="middle">1.6</text><text x="108.41" y="283.5" text-anchor="middle">1.8</text><text x="173.33" y="283.5" text-anchor="middle">2.0</text><text x="238.24" y="283.5" text-anchor="middle">2.2</text><text x="303.16" y="283.5" text-anchor="middle">2.4</text><text x="368.07" y="283.5" text-anchor="middle">2.6</text><text x="432.98" y="283.5" text-anchor="middle">2.8</text><text x="497.90" y="283.5" text-anchor="middle">3.0</text>
<text x="60.74" y="30.6" text-anchor="middle">750</text><text x="99.07" y="30.6" text-anchor="middle">700</text><text x="143.29" y="30.6" text-anchor="middle">650</text><text x="194.88" y="30.6" text-anchor="middle">600</text><text x="255.85" y="30.6" text-anchor="middle">550</text><text x="329.02" y="30.6" text-anchor="middle">500</text><text x="418.44" y="30.6" text-anchor="middle">450</text>
<text x="38.4" y="261.40" text-anchor="end">0.0</text><text x="38.4" y="162.60" text-anchor="end">0.5</text><text x="38.4" y="63.80" text-anchor="end">1.0</text>
</g>
<text x="210.8" y="12" font-size="15.8">wavelength</text>
<text x="301.2" y="12" font-size="15.5">[nm]</text>
<text x="228.1" y="300.8" font-size="15.5">energy</text>
<text x="287.3" y="300.8" font-size="15">[eV]</text>
<text transform="translate(11.6,203.2) rotate(-90)" font-size="16">normalized PL</text>
<text transform="translate(519.3,234.4) rotate(-90)" font-size="16">normalized absorbance</text>
<g font-size="13.3">
<text x="95.9" y="75.5">amorphous film</text>
<text x="95.9" y="94">crystal, c-pol</text>
<text x="444.6" y="75.5" text-anchor="end">amorphous film</text>
<text x="444.6" y="94" text-anchor="end">crystal, c-pol</text>
</g>
<g fill="none" stroke-width="1.75">
<path d="M51.2,72.9H90.4" stroke="#d43a2a"/>
<path d="M51,91.4H90" stroke="#d43a2a" stroke-dasharray="6 4.6"/>
<path d="M450.9,73H489.6" stroke="#3a4fc6"/>
<path d="M450.9,91.3H490" stroke="#3a4fc6" stroke-dasharray="6 4.6"/>
</g>
</svg>
</body></html>
